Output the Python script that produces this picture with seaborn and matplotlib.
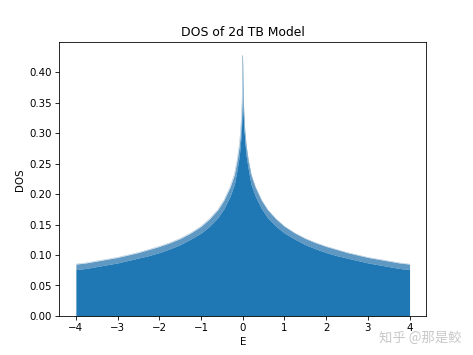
import matplotlib
matplotlib.use("Agg")
import matplotlib.pyplot as plt
import seaborn as sns
import numpy as np

# Energy grid and DOS envelopes
energy = [-4.0, -3.75, -3.5, -3.25, -3.0, -2.75, -2.5, -2.25, -2.0, -1.75, -1.5,
          -1.25, -1.0, -0.8, -0.6, -0.45, -0.3, -0.2, -0.13, -0.08, -0.05, -0.03,
          -0.015, -0.006, 0.0, 0.006, 0.015, 0.03, 0.05, 0.08, 0.13, 0.2, 0.3,
          0.45, 0.6, 0.8, 1.0, 1.25, 1.5, 1.75, 2.0, 2.25, 2.5, 2.75, 3.0, 3.25,
          3.5, 3.75, 4.0]
dos_body = [0.076, 0.078, 0.081, 0.084, 0.087, 0.091, 0.095, 0.099, 0.104, 0.110,
            0.117, 0.126, 0.136, 0.147, 0.161, 0.176, 0.197, 0.216, 0.242, 0.264,
            0.287, 0.308, 0.333, 0.365, 0.400, 0.365, 0.333, 0.308, 0.287, 0.264,
            0.242, 0.216, 0.197, 0.176, 0.161, 0.147, 0.136, 0.126, 0.117, 0.110,
            0.104, 0.099, 0.095, 0.091, 0.087, 0.084, 0.081, 0.078, 0.076]
dos_top = [0.085, 0.087, 0.090, 0.093, 0.096, 0.100, 0.104, 0.109, 0.114, 0.120,
           0.127, 0.136, 0.147, 0.159, 0.174, 0.190, 0.212, 0.232, 0.257, 0.281,
           0.304, 0.328, 0.353, 0.385, 0.4275, 0.385, 0.353, 0.328, 0.304, 0.281,
           0.257, 0.232, 0.212, 0.190, 0.174, 0.159, 0.147, 0.136, 0.127, 0.120,
           0.114, 0.109, 0.104, 0.100, 0.096, 0.093, 0.090, 0.087, 0.085]

x_ticks = [-4, -3, -2, -1, 0, 1, 2, 3, 4]
y_ticks = [0.00, 0.05, 0.10, 0.15, 0.20, 0.25, 0.30, 0.35, 0.40]

plt.rcParams['font.family'] = ['DejaVu Sans', 'Noto Sans CJK SC']
fig, ax = plt.subplots(figsize=(6.4, 4.8), dpi=74)

blue = '#1f77b4'
sns.lineplot(x=energy, y=dos_top, ax=ax, color='#a6c2d6', linewidth=0.5,
             sort=False)
ax.fill_between(energy, dos_body, dos_top, color='#5e98c3', linewidth=0)
ax.fill_between(energy, 0, dos_body, color=blue, linewidth=0)

ax.set_xticks(x_ticks)
ax.set_yticks(y_ticks)
ax.set_yticklabels([f"{v:.2f}" for v in y_ticks])
ax.set_xlim(-4.4, 4.4)
ax.set_ylim(0, 0.4275 * 1.05)
ax.set_title("DOS of 2d TB Model")
ax.set_xlabel("E")
ax.set_ylabel("DOS")

fig.text(0.975, 0.05, "知乎 @那是鲛", ha='right', va='center', fontsize=13,
         color='#c8c8c8', family=['Noto Sans CJK SC', 'DejaVu Sans'])

fig.savefig("out.png", dpi=74)
